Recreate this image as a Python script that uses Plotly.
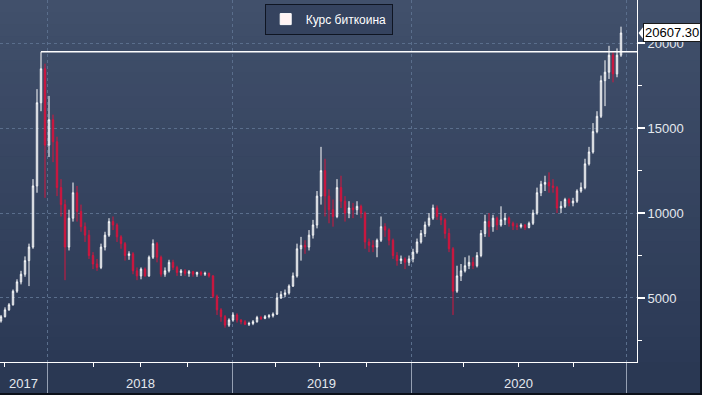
import plotly.graph_objects as go

# ---------------- data ----------------
opens = [3650, 3900, 4300, 4600, 5400, 5950, 6400, 7200, 8000, 11600,
         16500, 18500, 14000, 15500, 14200, 11500, 10500, 8000, 9700, 11200,
         10100, 9200, 8700, 7500, 7000, 6800, 8000, 8700, 9500, 9300,
         8600, 8200, 7500, 7600, 6600, 6300, 6700, 6300, 7400, 8200,
         7400, 6400, 6600, 7100, 6800, 6500, 6600, 6450, 6550, 6400,
         6500, 6400, 6450, 6300, 5100, 4300, 3900, 3400, 3700, 4000,
         3700, 3600, 3450, 3500, 3600, 3850, 3800, 3900, 3950, 4050,
         5000, 5200, 5300, 5700, 6300, 7900, 8100, 8000, 8700, 9300,
         11000, 12500, 11000, 10200, 9800, 11500, 10700, 10000, 10300, 10200,
         10400, 10000, 8300, 8100, 8000, 8400, 9200, 9000, 8400, 7500,
         7200, 7300, 7100, 7300, 7700, 8300, 8800, 9300, 9700, 10300,
         9800, 9600, 8800, 7900, 5400, 6300, 6600, 6900, 7100, 6900,
         7500, 8800, 9500, 9200, 9700, 9300, 9600, 9700, 9400, 9250,
         9200, 9300, 9150, 9400, 10000, 11200, 11700, 11800, 11600, 11500,
         10300, 10400, 10800, 10600, 10700, 11300, 11500, 12900, 13600, 14800,
         15700, 17800, 18300, 19300, 18200, 19300]
highs = [4000, 4450, 4700, 5500, 6100, 6600, 7450, 8200, 12000, 17300,
         19500, 18800, 16900, 15800, 14500, 12000, 10800, 10200, 11800, 11600,
         10500, 9450, 9000, 7700, 7300, 8200, 8900, 9700, 9800, 9400,
         8700, 8300, 7750, 7700, 6800, 6800, 6800, 7500, 8450, 8300,
         7500, 6800, 7250, 7250, 6900, 6700, 6700, 6650, 6600, 6550,
         6600, 6550, 6500, 6350, 5200, 4400, 4000, 3800, 4150, 4100,
         3750, 3700, 3600, 3700, 3950, 3950, 4000, 4050, 4150, 5300,
         5400, 5500, 5800, 6500, 8200, 8600, 8400, 9000, 9600, 11300,
         13900, 13200, 11400, 10800, 12000, 12200, 11000, 10700, 10600, 10700,
         10500, 10100, 8500, 8400, 8500, 9800, 9400, 9100, 8500, 7700,
         7500, 7400, 7500, 7900, 8500, 9000, 9500, 10000, 10500, 10450,
         10000, 9700, 9100, 8000, 6900, 7000, 7400, 7500, 7400, 7700,
         9000, 9900, 10000, 9900, 9800, 10400, 10000, 9800, 9500, 9400,
         9400, 9350, 9500, 10200, 11500, 11900, 12200, 12400, 12000, 11600,
         10700, 10900, 10900, 10900, 11400, 11800, 13200, 13900, 15300, 16000,
         18100, 19000, 19850, 19500, 19700, 20980]
lows = [3550, 3850, 4250, 4550, 5300, 5800, 6250, 5700, 7900, 11200,
        16000, 10900, 13300, 13000, 11000, 9800, 6050, 7800, 9500, 9500,
        8900, 8300, 7300, 6700, 6600, 6700, 7800, 8600, 9000, 8300,
        7900, 7200, 7250, 6400, 6050, 6100, 6250, 6250, 7300, 7100,
        6250, 6250, 6500, 6650, 6300, 6300, 6300, 6250, 6250, 6250,
        6300, 6300, 6200, 5000, 4000, 3600, 3250, 3300, 3600, 3550,
        3450, 3400, 3350, 3400, 3550, 3700, 3750, 3800, 3850, 4000,
        4950, 5050, 5200, 5650, 6200, 7200, 7600, 7800, 8500, 9100,
        10500, 9800, 9400, 9200, 9700, 10300, 9500, 9700, 9700, 9900,
        9700, 7900, 7700, 7700, 7400, 8300, 8600, 8100, 7300, 6900,
        7000, 6700, 6900, 7100, 7600, 8200, 8600, 9200, 9600, 9600,
        9300, 8500, 7700, 4000, 5300, 6000, 6500, 6700, 6700, 6800,
        7400, 8600, 8600, 8900, 9000, 9200, 9300, 9200, 9000, 9000,
        9100, 9000, 9100, 9300, 9900, 11000, 11300, 11200, 11200, 10000,
        10000, 10300, 10400, 10400, 10600, 11200, 11400, 12800, 13500, 14700,
        15600, 16300, 17900, 17700, 18000, 19200]
closes = [3900, 4300, 4600, 5400, 5950, 6400, 7200, 8000, 11600, 16500,
          18500, 14000, 15500, 14200, 11500, 10500, 8000, 9700, 11200, 10100,
          9200, 8700, 7500, 7000, 6800, 8000, 8700, 9500, 9300, 8600,
          8200, 7500, 7600, 6600, 6300, 6700, 6300, 7400, 8200, 7400,
          6400, 6600, 7100, 6800, 6500, 6600, 6450, 6550, 6400, 6500,
          6400, 6450, 6300, 5100, 4300, 3900, 3400, 3700, 4000, 3700,
          3600, 3450, 3500, 3600, 3850, 3800, 3900, 3950, 4050, 5000,
          5200, 5300, 5700, 6300, 7900, 8100, 8000, 8700, 9300, 11000,
          12500, 11000, 10200, 9800, 11500, 10700, 10000, 10300, 10200, 10400,
          10000, 8300, 8100, 8000, 8400, 9200, 9000, 8400, 7500, 7200,
          7300, 7100, 7300, 7700, 8300, 8800, 9300, 9700, 10300, 9800,
          9600, 8800, 7900, 5400, 6300, 6600, 6900, 7100, 6900, 7500,
          8800, 9500, 9200, 9700, 9300, 9600, 9700, 9400, 9250, 9200,
          9300, 9150, 9400, 10000, 11200, 11700, 11800, 11600, 11500, 10300,
          10400, 10800, 10600, 10700, 11300, 11500, 12900, 13600, 14800, 15700,
          17800, 18300, 19300, 18200, 19300, 20607.30]

series_name = "Курс биткоина"
year_labels = ["2017", "2018", "2019", "2020"]
year_bounds = [11.68, 57.88, 102.58, 156.25]          # candle-index positions of 1 Jan
quarter_ticks = [0.75, 23.0, 34.75, 46.5, 68.5, 79.5, 91.25, 115.5, 129.25, 143.0]
y_ticks = [5000, 10000, 15000, 20000]
y_minor = [2500, 7500, 12500, 17500]
last_label = "20607.30"

# ---------------- layout constants ----------------
W, H = 702, 395
ML, MR, MT, MB = 0, 65, 0, 33
PW, PH = W - ML - MR, H - MT - MB
x_range = [-0.25, 159.0]
y_range = [1230, 22550]
FONT = "Liberation Sans, Arial, sans-serif"

x_idx = list(range(len(closes)))

fig = go.Figure()
fig.add_trace(go.Candlestick(
    x=x_idx, open=opens, high=highs, low=lows, close=closes,
    increasing=dict(line=dict(color="#ffffff", width=1), fillcolor="rgba(0,0,0,0)"),
    decreasing=dict(line=dict(color="#d3163f", width=1), fillcolor="#c0143a"),
    whiskerwidth=0, showlegend=False, hoverinfo="skip",
))
fig.add_trace(go.Scatter(
    x=[None], y=[None], mode="markers", name=series_name,
    marker=dict(symbol="square", size=11, color="#fff3f3",
                line=dict(color="#ffffff", width=1)),
))

shapes = []
# background gradient (top lighter, bottom darker)
top_c = (65, 80, 107)
bot_c = (43, 57, 85)
N = 30
for k in range(N):
    t = (k + 0.5) / N
    c = tuple(int(round(bot_c[j] + (top_c[j] - bot_c[j]) * t)) for j in range(3))
    shapes.append(dict(type="rect", xref="paper", yref="paper",
                       x0=-ML / PW, x1=(W - ML) / PW, y0=k / N, y1=(k + 1) / N + 0.002,
                       fillcolor="rgb(%d,%d,%d)" % c, line=dict(width=0), layer="below"))

# horizontal line at the 2017 peak high
peak_i = highs.index(max(highs[:30]))
shapes.append(dict(type="line", xref="x", yref="y", x0=peak_i, x1=x_range[1],
                   y0=highs[peak_i], y1=highs[peak_i],
                   line=dict(color="#ffffff", width=1.5), layer="above"))

# pointer triangle of the last-price label
def ypaper(v):
    return (v - y_range[0]) / (y_range[1] - y_range[0])

yl = ypaper(closes[-1])
shapes.append(dict(type="path", xref="paper", yref="paper",
                   path="M %f,%f L %f,%f L %f,%f Z" % (
                       1 + 1.5 / PW, yl, 1 + 7 / PW, yl + 7 / PH, 1 + 7 / PW, yl - 7 / PH),
                   fillcolor="#ffffff", line=dict(width=0), layer="above"))

# dark frame on bottom and right edge
shapes.append(dict(type="line", xref="paper", yref="paper",
                   x0=-ML / PW, x1=(W - ML) / PW, y0=-(MB - 1) / PH, y1=-(MB - 1) / PH,
                   line=dict(color="#0c111a", width=2)))
shapes.append(dict(type="line", xref="paper", yref="paper",
                   x0=(W - ML - 1) / PW, x1=(W - ML - 1) / PW, y0=-(MB) / PH, y1=1,
                   line=dict(color="#0c111a", width=2)))

annotations = []
bounds_ext = [x_range[0]] + year_bounds
for k, lab in enumerate(year_labels):
    annotations.append(dict(x=(bounds_ext[k] + bounds_ext[k + 1]) / 2, xref="x",
                            y=-(MB - 12) / PH, yref="paper", yanchor="middle",
                            text=lab, showarrow=False,
                            font=dict(family=FONT, size=13, color="#e4e8ee")))
annotations.append(dict(x=1 + 6 / PW, xref="paper", xanchor="left",
                        y=closes[-1], yref="y", yanchor="middle",
                        text=last_label, showarrow=False,
                        font=dict(family=FONT, size=13, color="#000000"),
                        bgcolor="#ffffff", bordercolor="#1a1a1a", borderwidth=1,
                        borderpad=1))

fig.update_layout(
    width=W, height=H,
    margin=dict(l=ML, r=MR, t=MT, b=MB, pad=0),
    paper_bgcolor="#2a3853",
    plot_bgcolor="rgba(0,0,0,0)",
    font=dict(family=FONT, size=13, color="#e4e8ee"),
    boxgap=0.5,
    shapes=shapes,
    annotations=annotations,
    showlegend=True,
    legend=dict(x=0.516, xanchor="center", y=0.99, yanchor="top",
                orientation="h", bgcolor="#35435f", bordercolor="#0f1522",
                borderwidth=1, font=dict(family=FONT, size=12, color="#ffffff"),
                itemwidth=30),
    xaxis=dict(
        range=x_range, rangeslider=dict(visible=False),
        tickmode="array", tickvals=year_bounds, ticktext=[""] * len(year_bounds),
        ticks="outside", ticklen=MB - 2, tickcolor="#95a0b3", tickwidth=1,
        showgrid=True, gridcolor="#5a6e8c", griddash="dot", gridwidth=1,
        showline=True, linecolor="#ffffff", linewidth=1, zeroline=False,
        minor=dict(tickmode="array", tickvals=quarter_ticks, ticks="outside",
                   ticklen=4, tickcolor="#ffffff", tickwidth=1, showgrid=False),
        fixedrange=True,
    ),
    yaxis=dict(
        range=y_range, side="right",
        tickmode="array", tickvals=y_ticks, ticktext=[str(v) for v in y_ticks],
        ticks="outside", ticklen=7, tickwidth=2, tickcolor="#ffffff",
        tickfont=dict(family=FONT, size=13, color="#e4e8ee"),
        showgrid=True, gridcolor="#5a6e8c", griddash="dot", gridwidth=1,
        showline=True, linecolor="#ffffff", linewidth=1, zeroline=False,
        minor=dict(tickmode="array", tickvals=y_minor, ticks="outside",
                   ticklen=4, tickcolor="#ffffff", tickwidth=1, showgrid=False),
        fixedrange=True,
    ),
)

fig.write_html("out.html", config={"displayModeBar": False},
               post_script="document.body.style.margin='0';document.body.style.overflow='hidden';")
